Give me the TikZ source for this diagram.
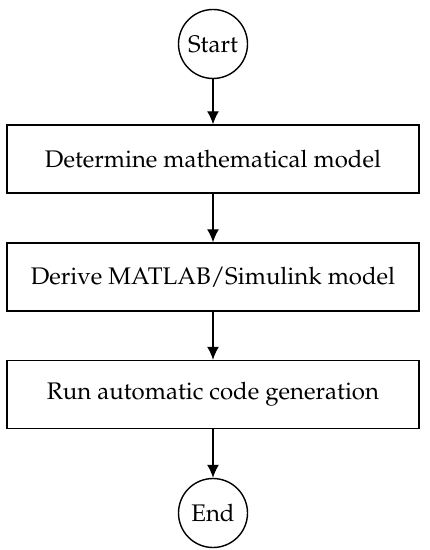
\documentclass[tikz,border=0pt]{standalone}
\usepackage[T1]{fontenc}
\usepackage{mathpazo}
\usetikzlibrary{arrows.meta,positioning}

\begin{document}
\begin{tikzpicture}[x=0.5pt,y=-0.5pt,line width=0.7pt,
    every node/.style={font=\fontsize{12}{14}\selectfont},
    term/.style={draw,circle,minimum size=34.5pt,inner sep=0pt},
    proc/.style={draw,rectangle,minimum width=206pt,minimum height=34pt,inner sep=0pt},
    flow/.style={-{Latex[length=6.5pt,width=6pt]}}]
  \useasboundingbox (0,0) rectangle (429,550);
  \node[term] (start) at (213,44) {Start};
  \node[proc] (model) at (213,159) {Determine mathematical model};
  \node[proc] (simu) at (213,277) {Derive MATLAB/Simulink model};
  \node[proc] (code) at (213,394.5) {Run automatic code generation};
  \node[term] (end) at (213,513) {End};
  \draw[flow] (start) -- (model);
  \draw[flow] (model) -- (simu);
  \draw[flow] (simu) -- (code);
  \draw[flow] (code) -- (end);
\end{tikzpicture}
\end{document}
